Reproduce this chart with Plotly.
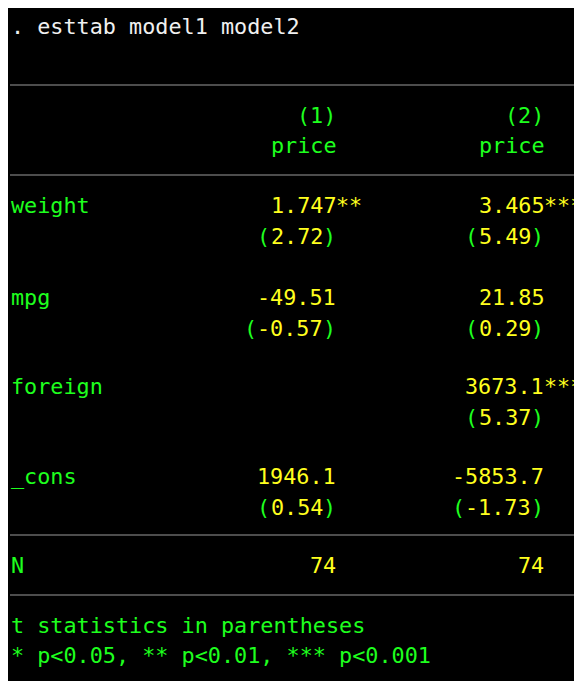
import plotly.graph_objects as go

command = ". esttab model1 model2"
col_heads = ["(1)", "(2)"]
dep_vars = ["price", "price"]
variables = ["weight", "mpg", "foreign", "_cons"]
coef1 = ["1.747", "-49.51", None, "1946.1"]
stars1 = ["**", "", "", ""]
tstat1 = ["2.72", "-0.57", None, "0.54"]
coef2 = ["3.465", "21.85", "3673.1", "-5853.7"]
stars2 = ["***", "", "***", ""]
tstat2 = ["5.49", "0.29", "5.37", "-1.73"]
n_obs = ["74", "74"]
notes = ["t statistics in parentheses", "* p<0.05, ** p<0.01, *** p<0.001"]

W, H = 582, 681
CW = 13.1
FS = 21.8
FONT = "DejaVu Sans Mono"
GREEN = "#1eff1e"
YELLOW = "#ffff1e"
WHITE = "#f0f0f0"
col_right = [327, 535]
var_y = [197, 289, 378, 468]
t_dy = 31

fig = go.Figure()
anns = []

def txt(s, x, y, color):
    anns.append(dict(x=x, y=y, text=s.replace(" ", "&nbsp;"), xref="x", yref="y", xanchor="left",
                     yanchor="middle", showarrow=False, borderpad=0,
                     font=dict(family=FONT, size=FS, color=color)))

def right(s, xr, y, color):
    txt(s, xr - len(s) * CW, y, color)

txt(command, 2, 18, WHITE)
for i in range(2):
    right(col_heads[i], col_right[i], 107, GREEN)
    right(dep_vars[i], col_right[i], 137, GREEN)
    right(n_obs[i], col_right[i], 557, YELLOW)

cols = [(coef1, stars1, tstat1), (coef2, stars2, tstat2)]
for j, v in enumerate(variables):
    txt(v, 2, var_y[j], GREEN)
    for i, (cl, sl, tl) in enumerate(cols):
        c, s, t = cl[j], sl[j], tl[j]
        xr = col_right[i]
        if c is not None:
            right(c, xr, var_y[j], YELLOW)
            if s:
                txt(s, xr, var_y[j], YELLOW)
        if t is not None:
            right(")", xr, var_y[j] + t_dy, GREEN)
            right(t, xr - CW, var_y[j] + t_dy, YELLOW)
            right("(", xr - CW * (len(t) + 1), var_y[j] + t_dy, GREEN)
txt("N", 2, 557, GREEN)
txt(notes[0], 2, 617, GREEN)
txt(notes[1], 2, 647, GREEN)

line_y = [77, 167, 527, 587]
shapes = [dict(type="line", xref="x", yref="y", x0=2, x1=573, y0=y, y1=y,
               line=dict(color="#9a9a9a", width=1)) for y in line_y]

fig.update_layout(
    width=W, height=H, margin=dict(l=0, r=0, t=0, b=0),
    paper_bgcolor="black", plot_bgcolor="black",
    xaxis=dict(range=[0, W], visible=False, fixedrange=True),
    yaxis=dict(range=[H, 0], visible=False, fixedrange=True),
    annotations=anns, shapes=shapes, showlegend=False,
)
fig.write_html("out.html")
